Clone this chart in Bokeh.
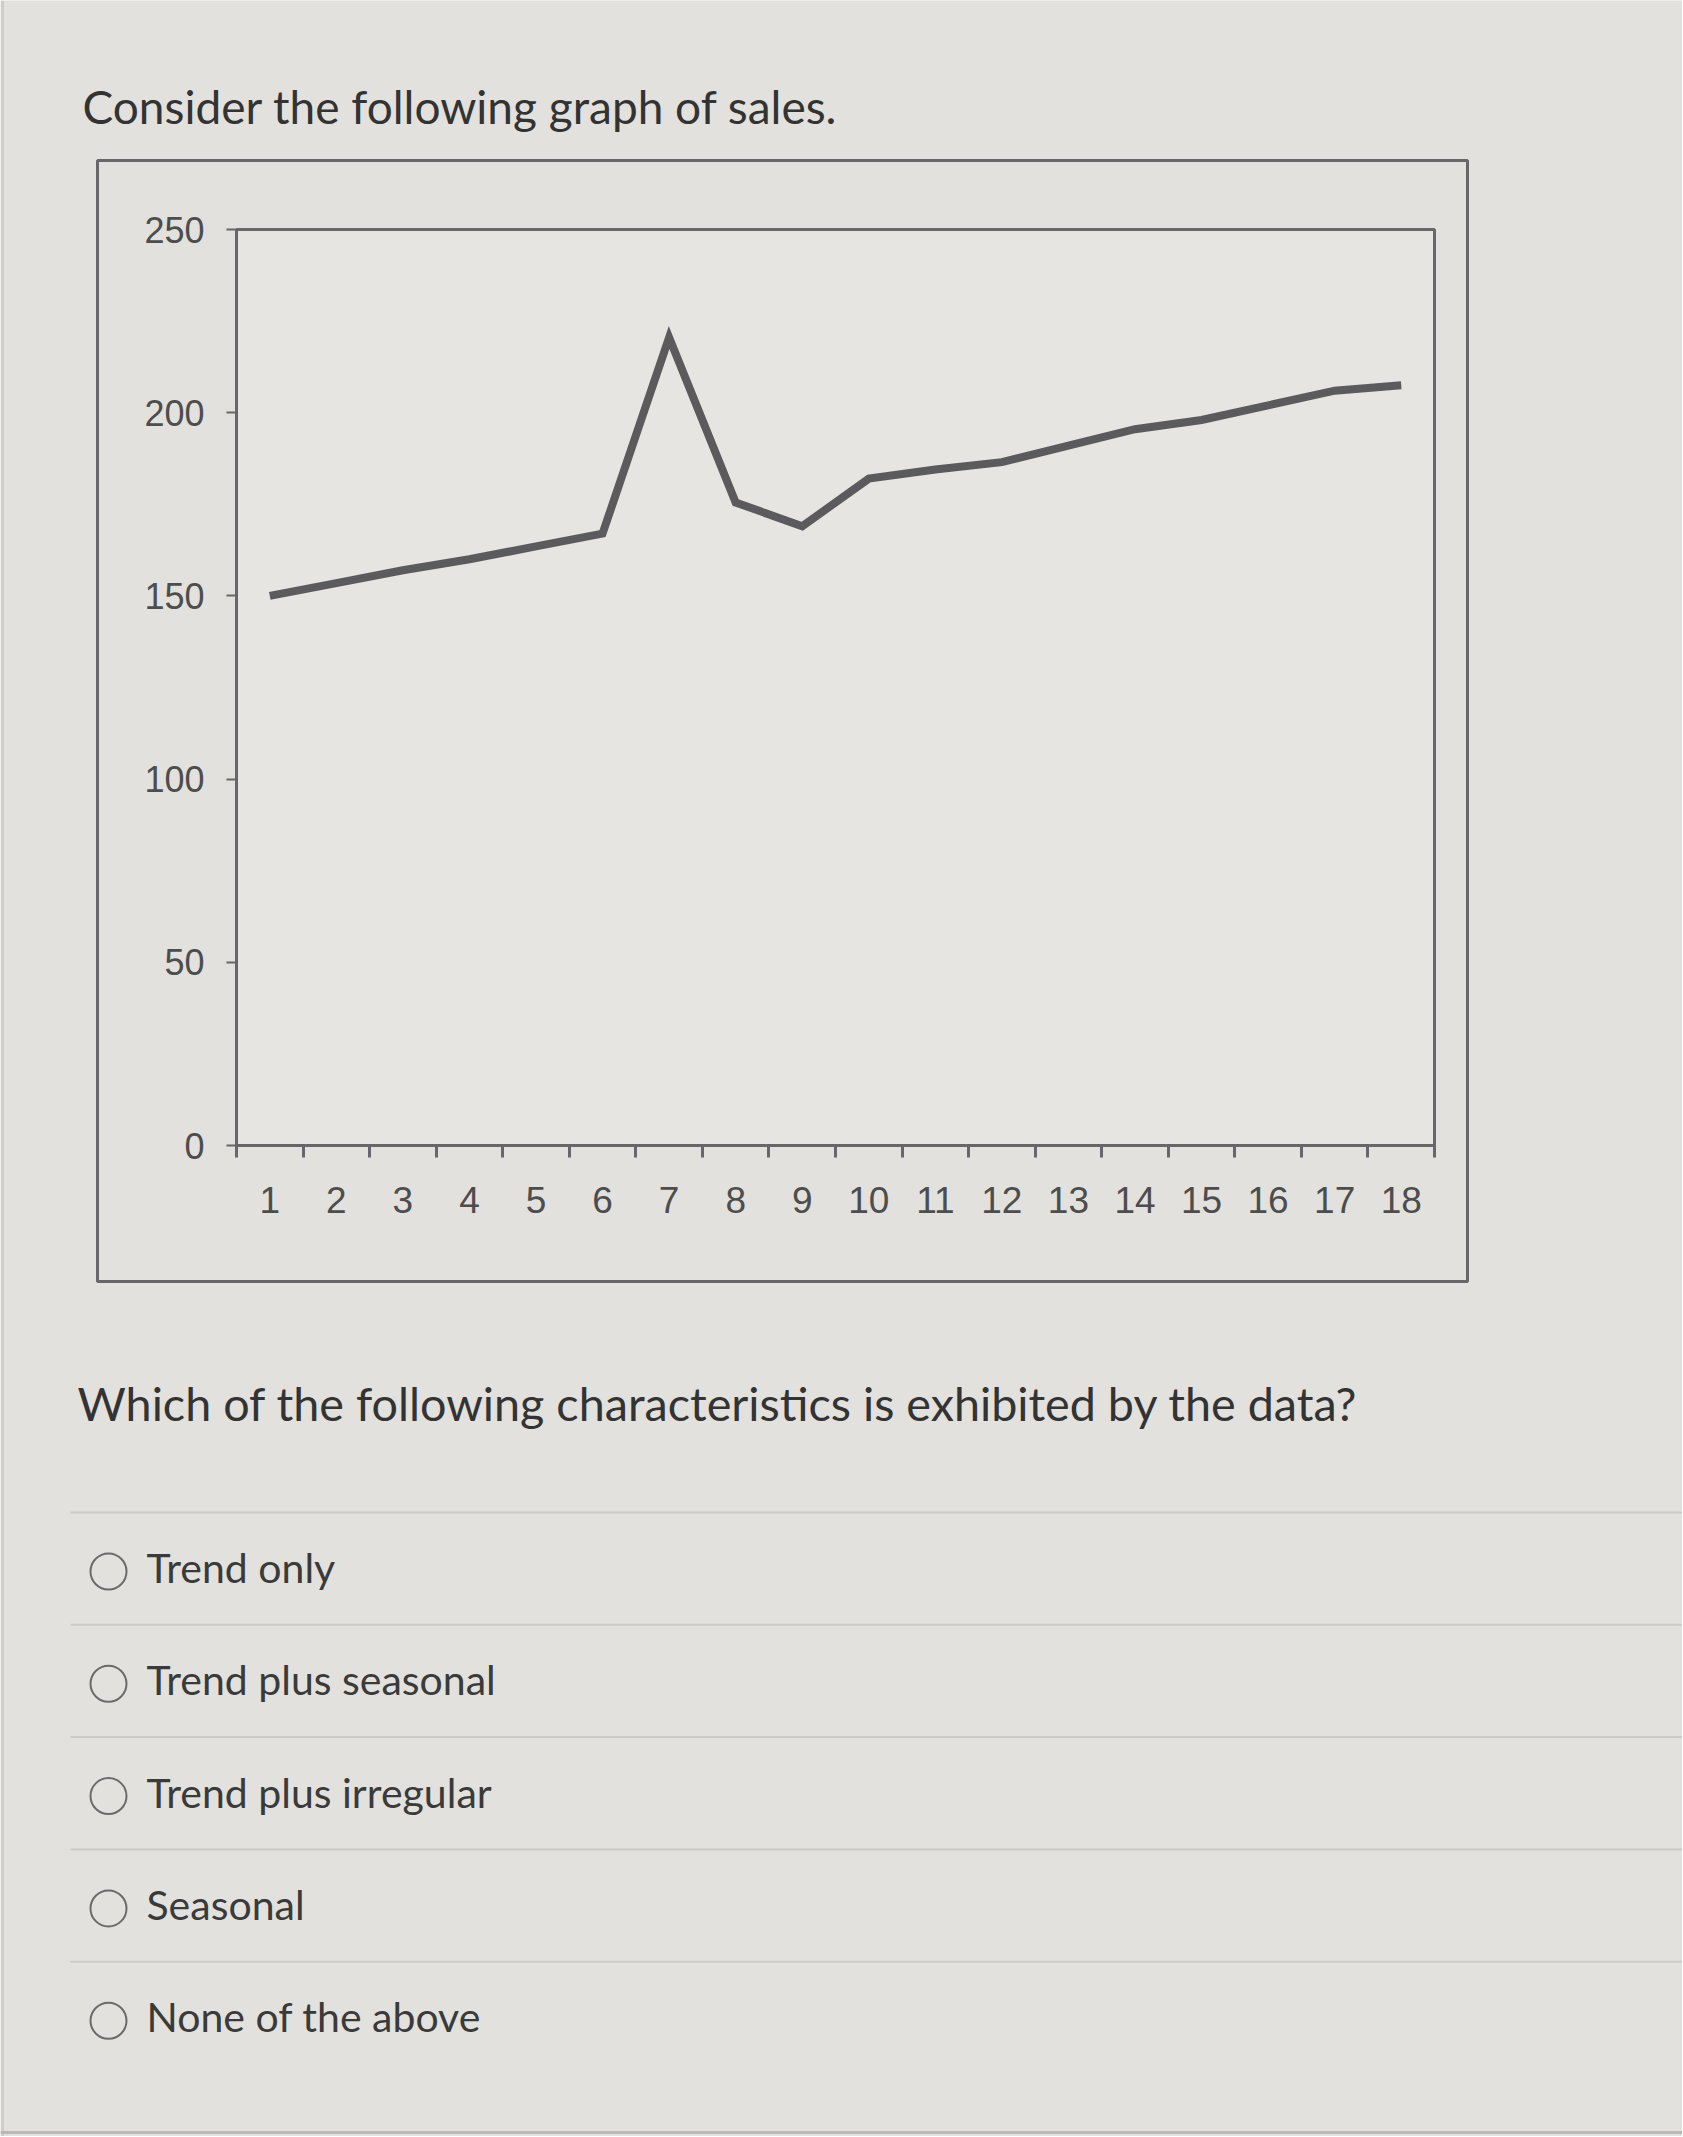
from bokeh.plotting import figure
from bokeh.models import Range1d, FixedTicker, LinearAxis
from bokeh.core.properties import value
from bokeh.embed import file_html
from bokeh.resources import INLINE

# ---- data ----
periods = list(range(1, 19))
sales = [150, 153.5, 157, 160, 163.5, 167, 220.5, 175.5, 169, 182, 184.5, 186.5,
         191, 195.5, 198, 202, 206, 207.5]
y_ticks = [0, 50, 100, 150, 200, 250]
title_text = "Consider the following graph of sales."
question_text = "Which of the following characteristics is exhibited by the data?"
options = ["Trend only", "Trend plus seasonal", "Trend plus irregular",
           "Seasonal", "None of the above"]

BG = "#e2e1dd"
FRAME = "#67676b"
TXT_AX = "#4d4d4d"
TXT = "#333333"

W, H = 1682, 2136

# where the chart's plotting area sits on the page (pixels)
PL, PT, PR, PB = 236, 229, 1434, 1145
X0, X1 = 0.5, 18.5
Y0, Y1 = 0, 250
kx = (PR - PL) / (X1 - X0)
ky = (PB - PT) / (Y1 - Y0)


def dx(px):
    return X0 + (px - PL) / kx


def dy(py):
    return Y0 + (PB - py) / ky


p = figure(width=W, height=H, output_backend="svg", toolbar_location=None,
           x_range=Range1d(dx(0), dx(W)), y_range=Range1d(dy(H), dy(0)),
           x_axis_type=None, y_axis_type=None,
           min_border=0, min_border_left=0, min_border_right=0,
           min_border_top=0, min_border_bottom=0,
           background_fill_color=BG, border_fill_color=BG, outline_line_color=None)
p.grid.visible = False

# ---- page decorations ----
p.segment(x0=[dx(2)], x1=[dx(2)], y0=[dy(0)], y1=[dy(H)], line_color="#cfcecb", line_width=3)
# outer chart box
p.quad(left=[dx(97)], right=[dx(1467)], top=[dy(160)], bottom=[dy(1281)],
       fill_color=None, line_color=FRAME, line_width=3)
# plotting area
p.quad(left=[X0], right=[X1], top=[Y1], bottom=[Y0],
       fill_color="#e6e5e1", line_color=FRAME, line_width=3)

p.text(x=[dx(82)], y=[dy(106)], text=[title_text], text_font=value("Lato"),
       text_font_size=value("46px"), text_color=TXT, text_baseline="alphabetic")
p.text(x=[dx(77)], y=[dy(1402)], text=[question_text], text_font=value("Lato"),
       text_font_size=value("46.7px"), text_color=TXT, text_baseline="alphabetic")

row_gap = 112.3
sep_py = [1512 + i * row_gap for i in range(len(options))]
p.segment(x0=[dx(70)] * len(sep_py), x1=[dx(W)] * len(sep_py),
          y0=[dy(v) for v in sep_py], y1=[dy(v) for v in sep_py],
          line_color="#cbcac6", line_width=2)
p.segment(x0=[dx(0)], x1=[dx(W)], y0=[dy(H - 4)], y1=[dy(H - 4)],
          line_color="#b9b8b4", line_width=3)

cy = [1571 + i * row_gap for i in range(len(options))]
p.circle(x=[dx(108)] * len(cy), y=[dy(c) for c in cy], radius=18 / kx, fill_color=None,
         line_color="#6a6a6a", line_width=2)
p.text(x=[dx(146)] * len(cy), y=[dy(c - 4) for c in cy], text=options,
       text_font=value("Lato"), text_font_size=value("41px"),
       text_color="#3a3a3a", text_baseline="alphabetic")

# ---- axes of the chart (placed at the plotting area's edges) ----
yaxis = LinearAxis(ticker=FixedTicker(ticks=y_ticks), fixed_location=X0, bounds=(Y0, Y1))
yaxis.axis_line_color = FRAME
yaxis.axis_line_width = 3
yaxis.major_tick_out = 10
yaxis.major_tick_in = 0
yaxis.major_tick_line_color = FRAME
yaxis.major_tick_line_width = 2
yaxis.minor_tick_line_color = None
yaxis.major_label_text_font = "Liberation Sans"
yaxis.major_label_text_font_size = "36px"
yaxis.major_label_text_color = TXT_AX
yaxis.major_label_standoff = 22
p.add_layout(yaxis, "left")

xaxis = LinearAxis(ticker=FixedTicker(ticks=periods,
                                      minor_ticks=[k + 0.5 for k in range(0, 19)]),
                   fixed_location=Y0, bounds=(X0, X1))
xaxis.axis_line_color = FRAME
xaxis.axis_line_width = 3
xaxis.major_tick_out = 0
xaxis.major_tick_in = 0
xaxis.major_tick_line_color = None
xaxis.minor_tick_out = 12
xaxis.minor_tick_in = 0
xaxis.minor_tick_line_color = FRAME
xaxis.minor_tick_line_width = 3
xaxis.major_label_text_font = "Liberation Sans"
xaxis.major_label_text_font_size = "37px"
xaxis.major_label_text_color = TXT_AX
xaxis.major_label_standoff = 29
p.add_layout(xaxis, "below")

p.line(periods, sales, line_color="#5b5b5d", line_width=8, line_join="miter")

open("out.html", "w").write(file_html(p, INLINE))
